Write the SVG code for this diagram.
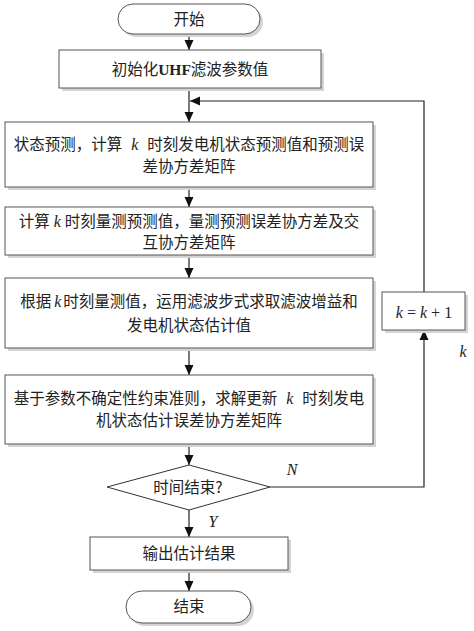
<svg xmlns="http://www.w3.org/2000/svg" width="474" height="631" viewBox="0 0 474 631">
<style>
.box{fill:#fff;stroke:#555;stroke-width:1}
.sh{fill:#d4d4d4}
.t{font-family:"Noto Sans CJK SC","Liberation Serif",serif;font-size:15.5px;fill:#222;text-anchor:middle}
.i{font-family:"Liberation Serif",serif;font-style:italic;font-size:16px}
.c{stroke:#222;stroke-width:1.2;fill:none}
</style>
<defs>
<marker id="ah" markerUnits="userSpaceOnUse" markerWidth="10" markerHeight="10" viewBox="0 0 10 10" refX="10" refY="5" orient="auto">
<path d="M0,0.5 L10,5 L0,9.5 Z" fill="#111"/>
</marker>
</defs>
<rect width="474" height="631" fill="#fff"/>
<g id="connectors">
<line class="c" x1="189" y1="34" x2="189" y2="50" marker-end="url(#ah)"/>
<line class="c" x1="189" y1="88" x2="189" y2="122" marker-end="url(#ah)"/>
<line class="c" x1="189" y1="187" x2="189" y2="207" marker-end="url(#ah)"/>
<line class="c" x1="189" y1="255" x2="189" y2="278" marker-end="url(#ah)"/>
<line class="c" x1="189" y1="348" x2="189" y2="375" marker-end="url(#ah)"/>
<line class="c" x1="189" y1="444" x2="189" y2="465" marker-end="url(#ah)"/>
<line class="c" x1="189" y1="510" x2="189" y2="537" marker-end="url(#ah)"/>
<line class="c" x1="189" y1="570" x2="189" y2="591" marker-end="url(#ah)"/>
<polyline class="c" points="270,487 424,487 424,330" marker-end="url(#ah)"/>
<polyline class="c" points="424,292 424,101 190,101" marker-end="url(#ah)"/>
<text class="t i" x="292" y="475">N</text>
<text class="t i" x="213" y="527">Y</text>
<text class="t i" x="463" y="357">k</text>
</g>
<g id="start">
<rect class="sh" x="121" y="7" width="142" height="30" rx="15"/>
<rect class="box" x="118" y="4" width="142" height="30" rx="15"/>
<text class="t" x="189" y="25">开始</text>
</g>
<g id="init">
<rect class="sh" x="62" y="53" width="262" height="38"/>
<rect class="box" x="59" y="50" width="262" height="38"/>
<text class="t" x="190" y="75">初始化<tspan style="font-family:'Liberation Serif',serif;font-weight:bold">UHF</tspan>滤波参数值</text>
</g>
<g id="predict">
<rect class="sh" x="8" y="125" width="368" height="65"/>
<rect class="box" x="5" y="122" width="368" height="65"/>
<text class="t" x="189" y="150">状态预测，计算<tspan class="i" dx="9">k</tspan><tspan dx="9">时刻发电机状态预测值和预测误</tspan></text>
<text class="t" x="189" y="172">差协方差矩阵</text>
</g>
<g id="measure">
<rect class="sh" x="8" y="210" width="368" height="48"/>
<rect class="box" x="5" y="207" width="368" height="48"/>
<text class="t" x="189" y="227">计算<tspan class="i" dx="4">k</tspan><tspan dx="4">时刻量测预测值，量测预测误差协方差及交</tspan></text>
<text class="t" x="189" y="248">互协方差矩阵</text>
</g>
<g id="gain">
<rect class="sh" x="8" y="281" width="368" height="70"/>
<rect class="box" x="5" y="278" width="368" height="70"/>
<text class="t" x="189" y="307">根据<tspan class="i" dx="3">k</tspan><tspan dx="2">时刻量测值，运用滤波步式求取滤波增益和</tspan></text>
<text class="t" x="189" y="331">发电机状态估计值</text>
</g>
<g id="update">
<rect class="sh" x="8" y="378" width="368" height="69"/>
<rect class="box" x="5" y="375" width="368" height="69"/>
<text class="t" x="189" y="404">基于参数不确定性约束准则，求解更新<tspan class="i" dx="9">k</tspan><tspan dx="9">时刻发电</tspan></text>
<text class="t" x="189" y="426">机状态估计误差协方差矩阵</text>
</g>
<g id="decision">
<polygon points="189,465 270,487 189,510 107,487" fill="#fff" stroke="#333" stroke-width="1"/>
<text class="t" x="188" y="493">时间结束?</text>
</g>
<g id="incr">
<rect class="sh" x="385" y="295" width="83" height="38"/>
<rect class="box" x="382" y="292" width="83" height="38"/>
<text class="t" x="424" y="318" style="font-family:'Liberation Serif',serif;font-size:16px"><tspan class="i">k</tspan> = <tspan class="i">k</tspan> + 1</text>
</g>
<g id="output">
<rect class="sh" x="93" y="540" width="198" height="33"/>
<rect class="box" x="90" y="537" width="198" height="33"/>
<text class="t" x="189" y="559">输出估计结果</text>
</g>
<g id="end">
<rect class="sh" x="129" y="594" width="125" height="32" rx="16"/>
<rect class="box" x="126" y="591" width="125" height="32" rx="16"/>
<text class="t" x="189" y="612">结束</text>
</g>
</svg>
